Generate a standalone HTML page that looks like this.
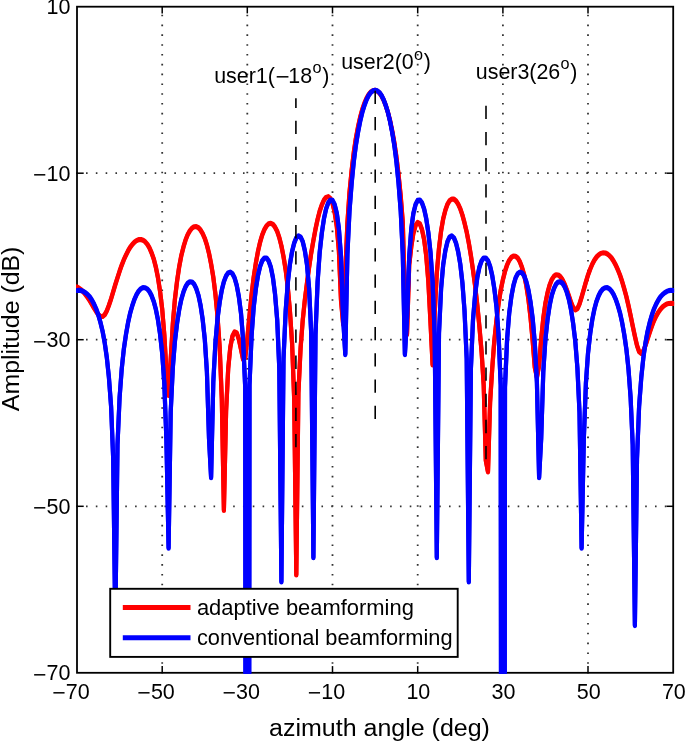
<!DOCTYPE html>
<html lang="en"><head><meta charset="utf-8"><title>Beam pattern: adaptive vs conventional beamforming</title>
<style>html,body{margin:0;padding:0;background:#fff;}svg{display:block;}text{font-family:"Liberation Sans", Arial, Helvetica, sans-serif;fill:#000;}</style>
</head><body>
<svg width="685" height="741" viewBox="0 0 685 741">
<rect x="0" y="0" width="685" height="741" fill="#fff"/>
<defs><clipPath id="ax"><rect x="76.1" y="5.8" width="598.0" height="667.9"/></clipPath></defs>
<g stroke="#333" stroke-width="1.8" fill="none" stroke-dasharray="1.60 8.21">
<line x1="162.2" y1="673.6" x2="162.2" y2="6.7"/>
<line x1="247.3" y1="673.6" x2="247.3" y2="6.7"/>
<line x1="332.5" y1="673.6" x2="332.5" y2="6.7"/>
<line x1="417.7" y1="673.6" x2="417.7" y2="6.7"/>
<line x1="502.9" y1="673.6" x2="502.9" y2="6.7"/>
<line x1="588.0" y1="673.6" x2="588.0" y2="6.7"/>
<line x1="76.2" y1="506.3" x2="673.2" y2="506.3"/>
<line x1="76.2" y1="339.7" x2="673.2" y2="339.7"/>
<line x1="76.2" y1="173.2" x2="673.2" y2="173.2"/>
</g>
<rect x="77.0" y="6.7" width="596.2" height="666.1" fill="none" stroke="#000" stroke-width="1.8"/>
<g stroke="#000" stroke-width="1.5">
<line x1="162.2" y1="672.8" x2="162.2" y2="666.1"/>
<line x1="162.2" y1="6.7" x2="162.2" y2="13.4"/>
<line x1="247.3" y1="672.8" x2="247.3" y2="666.1"/>
<line x1="247.3" y1="6.7" x2="247.3" y2="13.4"/>
<line x1="332.5" y1="672.8" x2="332.5" y2="666.1"/>
<line x1="332.5" y1="6.7" x2="332.5" y2="13.4"/>
<line x1="417.7" y1="672.8" x2="417.7" y2="666.1"/>
<line x1="417.7" y1="6.7" x2="417.7" y2="13.4"/>
<line x1="502.9" y1="672.8" x2="502.9" y2="666.1"/>
<line x1="502.9" y1="6.7" x2="502.9" y2="13.4"/>
<line x1="588.0" y1="672.8" x2="588.0" y2="666.1"/>
<line x1="588.0" y1="6.7" x2="588.0" y2="13.4"/>
<line x1="77.0" y1="506.3" x2="83.7" y2="506.3"/>
<line x1="673.2" y1="506.3" x2="666.5" y2="506.3"/>
<line x1="77.0" y1="339.7" x2="83.7" y2="339.7"/>
<line x1="673.2" y1="339.7" x2="666.5" y2="339.7"/>
<line x1="77.0" y1="173.2" x2="83.7" y2="173.2"/>
<line x1="673.2" y1="173.2" x2="666.5" y2="173.2"/>
</g>
<g clip-path="url(#ax)" fill="none" stroke-width="4.2" stroke-linejoin="round" stroke-linecap="round">
<polyline transform="translate(0,0.00)" stroke="#ff0000" points="77.0,286.5 79.1,287.8 81.3,289.5 83.4,291.6 85.5,294.1 87.6,297.0 89.8,300.3 91.9,303.9 94.0,307.6 96.2,311.1 98.3,314.1 100.4,315.9 102.6,316.1 104.7,314.3 106.8,310.4 108.9,304.9 111.1,298.4 113.2,291.3 115.3,284.2 117.5,277.3 119.6,270.8 121.7,264.8 123.8,259.4 126.0,254.6 128.1,250.4 130.2,246.8 132.4,243.9 134.5,241.7 136.6,240.1 138.7,239.2 140.9,239.1 143.0,239.8 145.1,241.3 147.3,243.8 149.4,247.4 151.5,252.2 153.7,258.4 155.8,266.5 157.9,276.9 160.0,290.5 162.2,308.7 164.3,334.1 166.4,370.5 168.6,395.0 170.7,359.0 172.8,323.8 174.9,298.9 177.1,280.5 179.2,266.3 181.3,255.2 183.5,246.4 185.6,239.5 187.7,234.2 189.9,230.3 192.0,227.7 194.1,226.3 196.2,226.2 198.4,227.2 200.5,229.5 202.6,233.0 204.8,238.0 206.9,244.6 209.0,252.9 211.1,263.5 213.3,276.7 215.4,293.6 217.5,315.8 219.7,347.1 221.8,398.5 223.9,510.0 226.1,410.9 228.2,368.2 230.3,346.9 232.4,335.8 234.6,331.5 236.7,332.5 238.8,338.6 241.0,348.9 243.1,359.1 245.2,357.3 247.3,338.6 249.5,315.2 251.6,294.1 253.7,276.7 255.9,262.4 258.0,250.9 260.1,241.7 262.2,234.5 264.4,229.1 266.5,225.5 268.6,223.4 270.8,222.9 272.9,223.9 275.0,226.6 277.2,231.0 279.3,237.2 281.4,245.4 283.5,256.1 285.7,269.7 287.8,287.1 289.9,310.2 292.1,342.9 294.2,399.1 296.3,574.6 298.4,392.6 300.6,347.5 302.7,320.3 304.8,299.8 307.0,282.4 309.1,266.9 311.2,252.7 313.4,240.0 315.5,228.7 317.6,218.9 319.7,210.7 321.9,204.3 324.0,199.6 326.1,196.9 328.3,196.2 330.4,198.1 332.5,202.8 334.6,211.5 336.8,226.0 338.9,250.5 341.0,299.9 343.2,324.0 345.3,272.6 347.4,222.9 349.5,191.9 351.7,169.4 353.8,151.9 355.9,137.8 358.1,126.2 360.2,116.8 362.3,109.0 364.5,102.7 366.6,97.8 368.7,94.1 370.8,91.6 373.0,90.2 375.1,89.8 377.2,90.6 379.4,92.5 381.5,95.5 383.6,99.6 385.7,105.0 387.9,111.8 390.0,120.0 392.1,130.0 394.3,142.0 396.4,156.4 398.5,173.9 400.7,195.5 402.8,222.1 404.9,300.0 407.0,334.0 409.2,264.6 411.3,246.2 413.4,232.7 415.6,225.0 417.7,222.0 419.8,223.3 421.9,228.8 424.1,239.0 426.2,255.2 428.3,280.4 430.5,322.2 432.6,364.5 434.7,312.6 436.8,272.8 439.0,247.7 441.1,230.5 443.2,218.3 445.4,209.7 447.5,203.8 449.6,200.2 451.8,198.6 453.9,198.7 456.0,200.4 458.1,203.6 460.3,208.4 462.4,214.6 464.5,222.4 466.7,231.7 468.8,242.6 470.9,255.2 473.0,269.6 475.2,286.0 477.3,304.7 479.4,326.1 481.6,351.6 483.7,384.7 485.8,460.0 488.0,471.5 490.1,402.0 492.2,368.5 494.3,340.6 496.5,319.6 498.6,303.1 500.7,289.9 502.9,279.3 505.0,270.9 507.1,264.5 509.2,259.9 511.4,256.9 513.5,255.6 515.6,255.8 517.8,257.7 519.9,261.4 522.0,267.0 524.2,274.7 526.3,285.1 528.4,298.7 530.5,316.8 532.7,340.8 534.8,367.0 536.9,377.0 539.1,365.1 541.2,338.2 543.3,317.8 545.4,302.9 547.6,292.1 549.7,284.4 551.8,279.1 554.0,275.8 556.1,274.3 558.2,274.5 560.3,276.2 562.5,279.3 564.6,283.7 566.7,289.2 568.9,295.5 571.0,301.9 573.1,307.0 575.3,309.5 577.4,308.3 579.5,303.6 581.6,296.7 583.8,289.0 585.9,281.5 588.0,274.7 590.2,268.7 592.3,263.7 594.4,259.7 596.5,256.6 598.7,254.4 600.8,253.0 602.9,252.4 605.1,252.5 607.2,253.5 609.3,255.1 611.5,257.5 613.6,260.7 615.7,264.6 617.8,269.2 620.0,274.7 622.1,281.0 624.2,288.2 626.4,296.3 628.5,305.3 630.6,315.1 632.7,325.5 634.9,335.9 637.0,345.0 639.1,351.2 641.3,353.0 643.4,350.4 645.5,345.0 647.6,338.4 649.8,331.7 651.9,325.6 654.0,320.2 656.2,315.6 658.3,311.9 660.4,308.9 662.6,306.5 664.7,304.8 666.8,303.6 668.9,303.0 671.1,302.8 673.2,303.1"/>
<polyline transform="translate(0,0.85)" stroke="#ff0000" points="77.0,286.5 79.1,287.8 81.3,289.5 83.4,291.6 85.5,294.1 87.6,297.0 89.8,300.3 91.9,303.9 94.0,307.6 96.2,311.1 98.3,314.1 100.4,315.9 102.6,316.1 104.7,314.3 106.8,310.4 108.9,304.9 111.1,298.4 113.2,291.3 115.3,284.2 117.5,277.3 119.6,270.8 121.7,264.8 123.8,259.4 126.0,254.6 128.1,250.4 130.2,246.8 132.4,243.9 134.5,241.7 136.6,240.1 138.7,239.2 140.9,239.1 143.0,239.8 145.1,241.3 147.3,243.8 149.4,247.4 151.5,252.2 153.7,258.4 155.8,266.5 157.9,276.9 160.0,290.5 162.2,308.7 164.3,334.1 166.4,370.5 168.6,395.0 170.7,359.0 172.8,323.8 174.9,298.9 177.1,280.5 179.2,266.3 181.3,255.2 183.5,246.4 185.6,239.5 187.7,234.2 189.9,230.3 192.0,227.7 194.1,226.3 196.2,226.2 198.4,227.2 200.5,229.5 202.6,233.0 204.8,238.0 206.9,244.6 209.0,252.9 211.1,263.5 213.3,276.7 215.4,293.6 217.5,315.8 219.7,347.1 221.8,398.5 223.9,510.0 226.1,410.9 228.2,368.2 230.3,346.9 232.4,335.8 234.6,331.5 236.7,332.5 238.8,338.6 241.0,348.9 243.1,359.1 245.2,357.3 247.3,338.6 249.5,315.2 251.6,294.1 253.7,276.7 255.9,262.4 258.0,250.9 260.1,241.7 262.2,234.5 264.4,229.1 266.5,225.5 268.6,223.4 270.8,222.9 272.9,223.9 275.0,226.6 277.2,231.0 279.3,237.2 281.4,245.4 283.5,256.1 285.7,269.7 287.8,287.1 289.9,310.2 292.1,342.9 294.2,399.1 296.3,574.6 298.4,392.6 300.6,347.5 302.7,320.3 304.8,299.8 307.0,282.4 309.1,266.9 311.2,252.7 313.4,240.0 315.5,228.7 317.6,218.9 319.7,210.7 321.9,204.3 324.0,199.6 326.1,196.9 328.3,196.2 330.4,198.1 332.5,202.8 334.6,211.5 336.8,226.0 338.9,250.5 341.0,299.9 343.2,324.0 345.3,272.6 347.4,222.9 349.5,191.9 351.7,169.4 353.8,151.9 355.9,137.8 358.1,126.2 360.2,116.8 362.3,109.0 364.5,102.7 366.6,97.8 368.7,94.1 370.8,91.6 373.0,90.2 375.1,89.8 377.2,90.6 379.4,92.5 381.5,95.5 383.6,99.6 385.7,105.0 387.9,111.8 390.0,120.0 392.1,130.0 394.3,142.0 396.4,156.4 398.5,173.9 400.7,195.5 402.8,222.1 404.9,300.0 407.0,334.0 409.2,264.6 411.3,246.2 413.4,232.7 415.6,225.0 417.7,222.0 419.8,223.3 421.9,228.8 424.1,239.0 426.2,255.2 428.3,280.4 430.5,322.2 432.6,364.5 434.7,312.6 436.8,272.8 439.0,247.7 441.1,230.5 443.2,218.3 445.4,209.7 447.5,203.8 449.6,200.2 451.8,198.6 453.9,198.7 456.0,200.4 458.1,203.6 460.3,208.4 462.4,214.6 464.5,222.4 466.7,231.7 468.8,242.6 470.9,255.2 473.0,269.6 475.2,286.0 477.3,304.7 479.4,326.1 481.6,351.6 483.7,384.7 485.8,460.0 488.0,471.5 490.1,402.0 492.2,368.5 494.3,340.6 496.5,319.6 498.6,303.1 500.7,289.9 502.9,279.3 505.0,270.9 507.1,264.5 509.2,259.9 511.4,256.9 513.5,255.6 515.6,255.8 517.8,257.7 519.9,261.4 522.0,267.0 524.2,274.7 526.3,285.1 528.4,298.7 530.5,316.8 532.7,340.8 534.8,367.0 536.9,377.0 539.1,365.1 541.2,338.2 543.3,317.8 545.4,302.9 547.6,292.1 549.7,284.4 551.8,279.1 554.0,275.8 556.1,274.3 558.2,274.5 560.3,276.2 562.5,279.3 564.6,283.7 566.7,289.2 568.9,295.5 571.0,301.9 573.1,307.0 575.3,309.5 577.4,308.3 579.5,303.6 581.6,296.7 583.8,289.0 585.9,281.5 588.0,274.7 590.2,268.7 592.3,263.7 594.4,259.7 596.5,256.6 598.7,254.4 600.8,253.0 602.9,252.4 605.1,252.5 607.2,253.5 609.3,255.1 611.5,257.5 613.6,260.7 615.7,264.6 617.8,269.2 620.0,274.7 622.1,281.0 624.2,288.2 626.4,296.3 628.5,305.3 630.6,315.1 632.7,325.5 634.9,335.9 637.0,345.0 639.1,351.2 641.3,353.0 643.4,350.4 645.5,345.0 647.6,338.4 649.8,331.7 651.9,325.6 654.0,320.2 656.2,315.6 658.3,311.9 660.4,308.9 662.6,306.5 664.7,304.8 666.8,303.6 668.9,303.0 671.1,302.8 673.2,303.1"/>
<polyline transform="translate(0,-0.20)" stroke="#0000ff" points="77.0,290.3 79.1,290.1 81.3,290.4 83.4,291.2 85.5,292.5 87.6,294.3 89.8,296.7 91.9,299.9 94.0,303.8 96.2,308.7 98.3,314.7 100.4,322.0 102.6,331.1 104.7,342.5 106.8,357.2 108.9,377.1 111.1,406.2 113.2,458.8 115.3,625.4 117.5,444.5 119.6,397.2 121.7,369.0 123.8,349.1 126.0,334.1 128.1,322.2 130.2,312.7 132.4,305.1 134.5,299.0 136.6,294.3 138.7,290.8 140.9,288.5 143.0,287.4 145.1,287.5 147.3,288.7 149.4,291.3 151.5,295.3 153.7,301.1 155.8,308.9 157.9,319.3 160.0,333.4 162.2,353.1 164.3,383.1 166.4,439.5 168.6,548.0 170.7,412.0 172.8,367.8 174.9,341.3 177.1,322.9 179.2,309.4 181.3,299.2 183.5,291.7 185.6,286.4 187.7,283.0 189.9,281.5 192.0,281.7 194.1,283.9 196.2,288.2 198.4,295.0 200.5,304.8 202.6,318.7 204.8,339.1 206.9,371.4 209.0,438.2 211.1,477.5 213.3,381.9 215.4,342.7 217.5,318.5 219.7,301.8 221.8,289.8 223.9,281.4 226.1,275.7 228.2,272.6 230.3,271.8 232.4,273.4 234.6,277.7 236.7,285.0 238.8,296.2 241.0,313.0 243.1,339.2 245.2,387.0 247.3,2666.4 249.5,384.9 251.6,335.1 253.7,306.9 255.9,288.2 258.0,275.2 260.1,266.2 262.2,260.5 264.4,257.7 266.5,257.7 268.6,260.6 270.8,266.9 272.9,277.3 275.0,293.5 277.2,319.6 279.3,368.6 281.4,581.8 283.5,358.7 285.7,310.3 287.8,282.5 289.9,264.1 292.1,251.3 294.2,242.8 296.3,237.6 298.4,235.6 300.6,236.8 302.7,241.3 304.8,250.1 307.0,264.5 309.1,288.3 311.2,332.9 313.4,557.5 315.5,334.6 317.6,281.8 319.7,252.0 321.9,232.2 324.0,218.2 326.1,208.6 328.3,202.5 330.4,199.7 332.5,200.1 334.6,204.2 336.8,213.0 338.9,228.5 341.0,256.1 343.2,318.4 345.3,354.4 347.4,254.2 349.5,210.8 351.7,182.4 353.8,161.3 355.9,144.9 358.1,131.6 360.2,120.9 362.3,112.1 364.5,105.0 366.6,99.4 368.7,95.2 370.8,92.3 373.0,90.5 375.1,90.0 377.2,90.5 379.4,92.3 381.5,95.2 383.6,99.4 385.7,105.0 387.9,112.1 390.0,120.9 392.1,131.6 394.3,144.9 396.4,161.3 398.5,182.4 400.7,210.8 402.8,254.2 404.9,354.4 407.0,318.4 409.2,256.1 411.3,228.5 413.4,213.0 415.6,204.2 417.7,200.1 419.8,199.7 421.9,202.5 424.1,208.6 426.2,218.2 428.3,232.2 430.5,252.0 432.6,281.8 434.7,334.6 436.8,557.5 439.0,332.9 441.1,288.3 443.2,264.5 445.4,250.1 447.5,241.3 449.6,236.8 451.8,235.6 453.9,237.6 456.0,242.8 458.1,251.3 460.3,264.1 462.4,282.5 464.5,310.3 466.7,358.7 468.8,581.8 470.9,368.6 473.0,319.6 475.2,293.5 477.3,277.3 479.4,266.9 481.6,260.6 483.7,257.7 485.8,257.7 488.0,260.5 490.1,266.2 492.2,275.2 494.3,288.2 496.5,306.9 498.6,335.1 500.7,384.9 502.9,2666.4 505.0,387.0 507.1,339.2 509.2,313.0 511.4,296.2 513.5,285.0 515.6,277.7 517.8,273.4 519.9,271.8 522.0,272.6 524.2,275.7 526.3,281.4 528.4,289.8 530.5,301.8 532.7,318.5 534.8,342.7 536.9,381.9 539.1,477.5 541.2,438.2 543.3,371.4 545.4,339.1 547.6,318.7 549.7,304.8 551.8,295.0 554.0,288.2 556.1,283.9 558.2,281.7 560.3,281.5 562.5,283.0 564.6,286.4 566.7,291.7 568.9,299.2 571.0,309.4 573.1,322.9 575.3,341.3 577.4,367.8 579.5,412.0 581.6,548.0 583.8,439.5 585.9,383.1 588.0,353.1 590.2,333.4 592.3,319.3 594.4,308.9 596.5,301.1 598.7,295.3 600.8,291.3 602.9,288.7 605.1,287.5 607.2,287.4 609.3,288.5 611.5,290.8 613.6,294.3 615.7,299.0 617.8,305.1 620.0,312.7 622.1,322.2 624.2,334.1 626.4,349.1 628.5,369.0 630.6,397.2 632.7,444.5 634.9,625.4 637.0,458.8 639.1,406.2 641.3,377.1 643.4,357.2 645.5,342.5 647.6,331.1 649.8,322.0 651.9,314.7 654.0,308.7 656.2,303.8 658.3,299.9 660.4,296.7 662.6,294.3 664.7,292.5 666.8,291.2 668.9,290.4 671.1,290.1 673.2,290.3"/>
<polyline transform="translate(0,0.65)" stroke="#0000ff" points="77.0,290.3 79.1,290.1 81.3,290.4 83.4,291.2 85.5,292.5 87.6,294.3 89.8,296.7 91.9,299.9 94.0,303.8 96.2,308.7 98.3,314.7 100.4,322.0 102.6,331.1 104.7,342.5 106.8,357.2 108.9,377.1 111.1,406.2 113.2,458.8 115.3,625.4 117.5,444.5 119.6,397.2 121.7,369.0 123.8,349.1 126.0,334.1 128.1,322.2 130.2,312.7 132.4,305.1 134.5,299.0 136.6,294.3 138.7,290.8 140.9,288.5 143.0,287.4 145.1,287.5 147.3,288.7 149.4,291.3 151.5,295.3 153.7,301.1 155.8,308.9 157.9,319.3 160.0,333.4 162.2,353.1 164.3,383.1 166.4,439.5 168.6,548.0 170.7,412.0 172.8,367.8 174.9,341.3 177.1,322.9 179.2,309.4 181.3,299.2 183.5,291.7 185.6,286.4 187.7,283.0 189.9,281.5 192.0,281.7 194.1,283.9 196.2,288.2 198.4,295.0 200.5,304.8 202.6,318.7 204.8,339.1 206.9,371.4 209.0,438.2 211.1,477.5 213.3,381.9 215.4,342.7 217.5,318.5 219.7,301.8 221.8,289.8 223.9,281.4 226.1,275.7 228.2,272.6 230.3,271.8 232.4,273.4 234.6,277.7 236.7,285.0 238.8,296.2 241.0,313.0 243.1,339.2 245.2,387.0 247.3,2666.4 249.5,384.9 251.6,335.1 253.7,306.9 255.9,288.2 258.0,275.2 260.1,266.2 262.2,260.5 264.4,257.7 266.5,257.7 268.6,260.6 270.8,266.9 272.9,277.3 275.0,293.5 277.2,319.6 279.3,368.6 281.4,581.8 283.5,358.7 285.7,310.3 287.8,282.5 289.9,264.1 292.1,251.3 294.2,242.8 296.3,237.6 298.4,235.6 300.6,236.8 302.7,241.3 304.8,250.1 307.0,264.5 309.1,288.3 311.2,332.9 313.4,557.5 315.5,334.6 317.6,281.8 319.7,252.0 321.9,232.2 324.0,218.2 326.1,208.6 328.3,202.5 330.4,199.7 332.5,200.1 334.6,204.2 336.8,213.0 338.9,228.5 341.0,256.1 343.2,318.4 345.3,354.4 347.4,254.2 349.5,210.8 351.7,182.4 353.8,161.3 355.9,144.9 358.1,131.6 360.2,120.9 362.3,112.1 364.5,105.0 366.6,99.4 368.7,95.2 370.8,92.3 373.0,90.5 375.1,90.0 377.2,90.5 379.4,92.3 381.5,95.2 383.6,99.4 385.7,105.0 387.9,112.1 390.0,120.9 392.1,131.6 394.3,144.9 396.4,161.3 398.5,182.4 400.7,210.8 402.8,254.2 404.9,354.4 407.0,318.4 409.2,256.1 411.3,228.5 413.4,213.0 415.6,204.2 417.7,200.1 419.8,199.7 421.9,202.5 424.1,208.6 426.2,218.2 428.3,232.2 430.5,252.0 432.6,281.8 434.7,334.6 436.8,557.5 439.0,332.9 441.1,288.3 443.2,264.5 445.4,250.1 447.5,241.3 449.6,236.8 451.8,235.6 453.9,237.6 456.0,242.8 458.1,251.3 460.3,264.1 462.4,282.5 464.5,310.3 466.7,358.7 468.8,581.8 470.9,368.6 473.0,319.6 475.2,293.5 477.3,277.3 479.4,266.9 481.6,260.6 483.7,257.7 485.8,257.7 488.0,260.5 490.1,266.2 492.2,275.2 494.3,288.2 496.5,306.9 498.6,335.1 500.7,384.9 502.9,2666.4 505.0,387.0 507.1,339.2 509.2,313.0 511.4,296.2 513.5,285.0 515.6,277.7 517.8,273.4 519.9,271.8 522.0,272.6 524.2,275.7 526.3,281.4 528.4,289.8 530.5,301.8 532.7,318.5 534.8,342.7 536.9,381.9 539.1,477.5 541.2,438.2 543.3,371.4 545.4,339.1 547.6,318.7 549.7,304.8 551.8,295.0 554.0,288.2 556.1,283.9 558.2,281.7 560.3,281.5 562.5,283.0 564.6,286.4 566.7,291.7 568.9,299.2 571.0,309.4 573.1,322.9 575.3,341.3 577.4,367.8 579.5,412.0 581.6,548.0 583.8,439.5 585.9,383.1 588.0,353.1 590.2,333.4 592.3,319.3 594.4,308.9 596.5,301.1 598.7,295.3 600.8,291.3 602.9,288.7 605.1,287.5 607.2,287.4 609.3,288.5 611.5,290.8 613.6,294.3 615.7,299.0 617.8,305.1 620.0,312.7 622.1,322.2 624.2,334.1 626.4,349.1 628.5,369.0 630.6,397.2 632.7,444.5 634.9,625.4 637.0,458.8 639.1,406.2 641.3,377.1 643.4,357.2 645.5,342.5 647.6,331.1 649.8,322.0 651.9,314.7 654.0,308.7 656.2,303.8 658.3,299.9 660.4,296.7 662.6,294.3 664.7,292.5 666.8,291.2 668.9,290.4 671.1,290.1 673.2,290.3"/>
</g>
<g stroke="#000" stroke-width="1.6" fill="none">
<line x1="295.9" y1="98.2" x2="295.9" y2="449.0" stroke-dasharray="13.30 12.80" stroke-dashoffset="3.60"/>
<line x1="375.2" y1="90.8" x2="375.2" y2="419.5" stroke-dasharray="13.30 12.95" stroke-dashoffset="0.00"/>
<line x1="486.0" y1="105.7" x2="486.0" y2="459.3" stroke-dasharray="13.30 12.88" stroke-dashoffset="0.00"/>
</g>
<rect x="110.2" y="588.8" width="347.5" height="68.1" fill="#fff" stroke="#000" stroke-width="1.9"/>
<line x1="122.8" y1="607.4" x2="190.5" y2="607.4" stroke="#ff0000" stroke-width="5.05"/>
<line x1="122.8" y1="637.8" x2="190.5" y2="637.8" stroke="#0000ff" stroke-width="5.05"/>
<text transform="translate(196.9,614.8) scale(1.030,1)" font-size="21.3" text-anchor="start">adaptive beamforming</text>
<text transform="translate(196.9,645.1) scale(1.024,1)" font-size="21.3" text-anchor="start">conventional beamforming</text>
<text y="699.2" font-size="21.5"><tspan x="52.2" dy="1.2" textLength="13.43" lengthAdjust="spacingAndGlyphs">−</tspan><tspan x="65.7" dy="-1.2">70</tspan></text>
<text y="699.2" font-size="21.5"><tspan x="137.3" dy="1.2" textLength="13.43" lengthAdjust="spacingAndGlyphs">−</tspan><tspan x="150.9" dy="-1.2">50</tspan></text>
<text y="699.2" font-size="21.5"><tspan x="222.5" dy="1.2" textLength="13.43" lengthAdjust="spacingAndGlyphs">−</tspan><tspan x="236.0" dy="-1.2">30</tspan></text>
<text y="699.2" font-size="21.5"><tspan x="307.7" dy="1.2" textLength="13.43" lengthAdjust="spacingAndGlyphs">−</tspan><tspan x="321.2" dy="-1.2">10</tspan></text>
<text x="406.4" y="699.2" font-size="21.5">10</text>
<text x="491.5" y="699.2" font-size="21.5">30</text>
<text x="576.7" y="699.2" font-size="21.5">50</text>
<text x="661.9" y="699.2" font-size="21.5">70</text>
<text x="46.6" y="14.3" font-size="21.5">10</text>
<text y="180.8" font-size="21.5"><tspan x="33.1" dy="1.2" textLength="13.43" lengthAdjust="spacingAndGlyphs">−</tspan><tspan x="46.6" dy="-1.2">10</tspan></text>
<text y="347.3" font-size="21.5"><tspan x="33.1" dy="1.2" textLength="13.43" lengthAdjust="spacingAndGlyphs">−</tspan><tspan x="46.6" dy="-1.2">30</tspan></text>
<text y="513.9" font-size="21.5"><tspan x="33.1" dy="1.2" textLength="13.43" lengthAdjust="spacingAndGlyphs">−</tspan><tspan x="46.6" dy="-1.2">50</tspan></text>
<text y="680.4" font-size="21.5"><tspan x="33.1" dy="1.2" textLength="13.43" lengthAdjust="spacingAndGlyphs">−</tspan><tspan x="46.6" dy="-1.2">70</tspan></text>
<text transform="translate(379.5,735.5) scale(1.025,1)" font-size="24.4" text-anchor="middle">azimuth angle (deg)</text>
<text transform="translate(19.4,328.9) rotate(-90) scale(1.055,1)" font-size="23.6" text-anchor="middle">Amplitude (dB)</text>
<text x="214.2" y="82.6" font-size="21.4">user1(<tspan x="275.5" dy="1.2" textLength="14.12" lengthAdjust="spacingAndGlyphs">−</tspan><tspan x="288.3" dy="-1.2">18</tspan><tspan font-size="16.2" dy="-9.8" dx="0.3">o</tspan><tspan dy="9.8" dx="0.8">)</tspan></text>
<text transform="translate(341.2,69.4)" font-size="21.4">user2(0<tspan font-size="16.2" dy="-9.8" dx="0.3">o</tspan><tspan dy="9.8" dx="0.8">)</tspan></text>
<text transform="translate(475.8,78.5)" font-size="21.4">user3(26<tspan font-size="16.2" dy="-9.8" dx="0.3">o</tspan><tspan dy="9.8" dx="0.8">)</tspan></text>
</svg>
</body></html>
